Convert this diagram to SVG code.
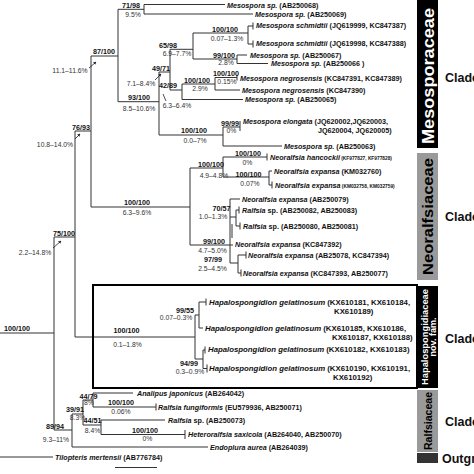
<svg xmlns="http://www.w3.org/2000/svg" width="474" height="474" viewBox="0 0 474 474">
<defs>
<style>
.br{stroke:#333;stroke-width:1;fill:none}
.sup{font-family:"Liberation Sans",Arial,sans-serif;font-weight:bold;font-size:7.2px;fill:#111;text-anchor:middle}
.pct{font-family:"Liberation Sans",Arial,sans-serif;font-size:6.8px;fill:#333;text-anchor:middle}
.tx{font-family:"Liberation Sans",Arial,sans-serif;font-weight:bold;font-size:7.2px;fill:#111}
.hx{font-family:"Liberation Sans",Arial,sans-serif;font-weight:bold;font-size:7.8px;fill:#111}
.it{font-style:italic}
.sm{font-size:4.8px}
.fam{font-family:"Liberation Sans",Arial,sans-serif;font-weight:bold;text-anchor:middle}
.clade{font-family:"Liberation Sans",Arial,sans-serif;font-weight:bold;font-size:12.5px;fill:#111}
.arr{stroke:#222;stroke-width:0.8;fill:none;marker-end:url(#ah)}
</style>
<marker id="ah" viewBox="0 0 6 6" refX="5" refY="3" markerWidth="4" markerHeight="4" orient="auto"><path d="M0,0 L6,3 L0,6 z" fill="#222"/></marker>
</defs>
<rect width="474" height="474" fill="#fff"/>

<g id="connectors">
<path class="br" d="M91 56H118M118 9.3V101.7M118 9.3H144M144 4.5V14M144 4.5H225M144 14H253"/>
<path class="br" d="M118 101.7H159M159 72V135M159 72H170M170 49.3V90"/>
<path class="br" d="M170 49.3H193M193 33V59M193 33H248M248 26V44M248 26H253M253 22.5V29.5M248 44H253M253 40.5V47.5"/>
<path class="br" d="M193 59H237M237 55V63.5M237 55H247M237 63.5H268"/>
<path class="br" d="M170 90H182M182 84V99.5M182 84H215M215 77.5V90M215 77.5H237M237 75V80.5M215 90H240M182 99.5H243"/>
<path class="br" d="M159 135H223M223 127V146M223 127H240M240 121V131M223 146H282"/>
<path class="br" d="M75 131H91M91 56V207M91 207H190M54 237H75M75 131V337"/>
<path class="br" d="M190 168V245M190 168H223M223 157V177M223 157H267M267 153.5V160.5M223 177H269M269 171V185M269 171H272M269 185H272M272 181.5V188.5"/>
<path class="br" d="M190 245H230M230 199V263M230 199H240M230 217H236M236 210V226M236 210H239M239 206.5V213.5M236 226H240M240 222.5V229.5M230 245H233"/>
<path class="br" d="M230 263H238M238 255V273M238 255H246M246 251.5V258.5M238 273H241M241 269.5V276.5"/>
<rect x="229" y="224" width="4" height="14" fill="#999"/>
<path class="br" d="M75 337H195M195 315V359M195 315H199M199 302V328M199 302H206M206 298.5V305.5M199 328H203"/>
<path class="br" d="M195 359H203M203 350V368.5M203 350H205M205 346.5V353.5M203 368.5H207M207 364.5V372.5"/>
<path class="br" d="M54 237V430M0 333H54M54 430H72M72 414V447M72 414H83M83 400V425M83 400H93M93 393V407M93 393H133M93 407H156M156 403.5V410.5"/>
<path class="br" d="M83 425H101M101 420V434.5M101 420H165M101 434.5H185M185 430V439M72 447H208M0 457H53"/>
<path class="br" d="M115 467.5H157"/>
<path class="arr" d="M89 68L96 62"/>
<path class="arr" d="M155 80L161 74"/>
<path class="arr" d="M75 139L80 134"/>
<path class="arr" d="M53 248L61 241"/>
<path d="M166 101L163 94" stroke="#222" stroke-width="0.8"/>
</g>

<g id="support">
<text class="sup" x="131" y="7.5">71/98</text><text class="pct" x="133" y="17">9.5%</text>
<text class="sup" x="104" y="54">87/100</text><text class="pct" x="70" y="73">11.1–11.6%</text>
<text class="sup" x="161" y="70.5">49/71</text><text class="pct" x="141" y="86">7.1–8.4%</text>
<text class="sup" x="139" y="99.5">93/100</text><text class="pct" x="139" y="110.5">8.5–10.6%</text>
<text class="sup" x="168" y="47.5">65/98</text><text class="pct" x="177" y="56">6.9–7.7%</text>
<text class="sup" x="225" y="31.5">100/100</text><text class="pct" x="227" y="41">0.07–1.3%</text>
<text class="sup" x="224" y="57.5">99/100</text><text class="pct" x="226" y="65">2.8%</text>
<text class="sup" x="197" y="82.5">100/100</text><text class="pct" x="200" y="90.5">2.9%</text>
<text class="sup" x="226" y="76">100/100</text><text class="pct" x="227" y="84">0.15%</text>
<text class="sup" x="168" y="88">42/89</text><text class="pct" x="177" y="108">6.3–6.4%</text>
<text class="sup" x="194" y="133">100/100</text><text class="pct" x="195" y="142.5">0.0–7%</text>
<text class="sup" x="230" y="125.5">99/99</text><text class="pct" x="231.5" y="133">0%</text>
<text class="sup" x="81" y="129.5">76/93</text><text class="pct" x="55" y="147">10.8–14.0%</text>
<text class="sup" x="137" y="205">100/100</text><text class="pct" x="137" y="215">6.3–9.6%</text>
<text class="sup" x="64" y="235.5">75/100</text><text class="pct" x="35" y="255">2.2–14.8%</text>
<text class="sup" x="248" y="156">100/100</text><text class="pct" x="247.5" y="165">0%</text>
<text class="sup" x="211" y="167">100/100</text><text class="pct" x="214" y="177.5">4.9–4.8%</text>
<text class="sup" x="248.5" y="176.5">100/100</text><text class="pct" x="250" y="186">0.07%</text>
<text class="sup" x="221.5" y="211">70/57</text><text class="pct" x="213" y="219">1.0–1.3%</text>
<text class="sup" x="214" y="244">99/100</text><text class="pct" x="212.5" y="253">4.7–5.0%</text>
<text class="sup" x="213" y="262">97/99</text><text class="pct" x="212.5" y="270.5">2.5–4.5%</text>
<text class="sup" x="126.5" y="333">100/100</text><text class="pct" x="127.5" y="346.5">0.1–1.8%</text>
<text class="sup" x="185" y="312.5">99/55</text><text class="pct" x="176" y="320">0.07–0.3%</text>
<text class="sup" x="189" y="365.5">94/99</text><text class="pct" x="190" y="374">0.3–0.9%</text>
<text class="sup" x="17" y="331">100/100</text>
<text class="sup" x="55" y="428.5">89/94</text><text class="pct" x="56" y="441.5">9.3–11%</text>
<text class="sup" x="75" y="412">39/91</text><text class="pct" x="77.5" y="419.5">8.3%</text>
<text class="sup" x="88.5" y="398.5">44/79</text><text class="pct" x="89" y="405">8%</text>
<text class="sup" x="92.5" y="423">44/51</text><text class="pct" x="92.5" y="433">8.4%</text>
<text class="sup" x="121" y="405">100/100</text><text class="pct" x="121" y="413.5">0.06%</text>
<text class="sup" x="145" y="432.5">100/100</text><text class="pct" x="147.5" y="441">0%</text>
</g>

<g id="taxa">
<g id="t1"><text class="tx" x="227" y="7.5"><tspan class="it">Mesospora sp.</tspan> (AB250068)</text></g>
<g id="t2"><text class="tx" x="255" y="16.5"><tspan class="it">Mesospora sp.</tspan> (AB250069)</text></g>
<g id="t3"><text class="tx" x="256" y="27.5"><tspan class="it">Mesospora schmidtii</tspan> (JQ619999, KC847387)</text></g>
<g id="t4"><text class="tx" x="256" y="45.5"><tspan class="it">Mesospora schmidtii</tspan> (JQ619998, KC847388)</text></g>
<g id="t5"><text class="tx" x="250" y="57.5"><tspan class="it">Mesospora sp.</tspan> (AB250067)</text></g>
<g id="t6"><text class="tx" x="271" y="65.5"><tspan class="it">Mesospora sp.</tspan> (AB250066 )</text></g>
<g id="t7"><text class="tx" x="240" y="80.5"><tspan class="it">Mesospora negrosensis</tspan> (KC847391, KC847389)</text></g>
<g id="t8"><text class="tx" x="242" y="92.5"><tspan class="it">Mesospora negrosensis</tspan> (KC847390)</text></g>
<g id="t9"><text class="tx" x="245" y="101.5"><tspan class="it">Mesospora sp.</tspan> (AB250065)</text></g>
<g id="t10"><text class="tx" x="243" y="123.5"><tspan class="it">Mesospora elongata</tspan> (JQ620002,JQ620003,</text><text class="tx" x="318" y="132.5">JQ620004, JQ620005)</text></g>
<g id="t11"><text class="tx" x="284" y="148.5"><tspan class="it">Mesospora sp.</tspan> (AB250063)</text></g>
<g id="t12"><text class="tx" x="270" y="159.5"><tspan class="it">Neoralfsia hancockii</tspan><tspan class="sm"> (KF977827, KF977828)</tspan></text></g>
<g id="t13"><text class="tx" x="274" y="173.5"><tspan class="it">Neoralfsia expansa</tspan> (KM032760)</text></g>
<g id="t14"><text class="tx" x="275" y="187.5"><tspan class="it">Neoralfsia expansa</tspan><tspan class="sm"> (KM032758, KM032759)</tspan></text></g>
<g id="t15"><text class="tx" x="242" y="201.5"><tspan class="it">Neoralfsia expansa</tspan> (AB250079)</text></g>
<g id="t16"><text class="tx" x="242" y="212.5"><tspan class="it">Ralfsia</tspan> sp. (AB250082, AB250083)</text></g>
<g id="t17"><text class="tx" x="243" y="228.5"><tspan class="it">Ralfsia</tspan> sp. (AB250080, AB250081)</text></g>
<g id="t18"><text class="tx" x="235" y="246.5"><tspan class="it">Neoralfsia expansa</tspan> (KC847392)</text></g>
<g id="t19"><text class="tx" x="248" y="257.5"><tspan class="it">Neoralfsia expansa</tspan> (AB25078, KC847394)</text></g>
<g id="t20"><text class="tx" x="243" y="275.5"><tspan class="it">Neoralfsia expansa</tspan> (KC847393, AB250077)</text></g>
<g id="t21"><text class="hx" x="209" y="304.5"><tspan class="it">Hapalospongidion gelatinosum</tspan> (KX610181, KX610184,</text><text class="hx" x="334" y="313.5">KX610189)</text></g>
<g id="t22"><text class="hx" x="205" y="330.5"><tspan class="it">Hapalospongidion gelatinosum</tspan> (KX610185, KX610186,</text><text class="hx" x="332" y="339.5">KX610187, KX610188)</text></g>
<g id="t23"><text class="hx" x="208" y="352"><tspan class="it">Hapalospongidion gelatinosum</tspan> (KX610182, KX610183)</text></g>
<g id="t24"><text class="hx" x="209" y="371"><tspan class="it">Hapalospongidion gelatinosum</tspan> (KX610190, KX610191,</text><text class="hx" x="333" y="380">KX610192)</text></g>
<g id="t25"><text class="tx" x="137" y="395.5"><tspan class="it">Analipus japonicus</tspan> (AB264042)</text></g>
<g id="t26"><text class="tx" x="158" y="409.5"><tspan class="it">Ralfsia fungiformis</tspan> (EU579936, AB250071)</text></g>
<g id="t27"><text class="tx" x="168" y="422.5"><tspan class="it">Ralfsia</tspan> sp. (AB250073)</text></g>
<g id="t28"><text class="tx" x="188" y="437"><tspan class="it">Heteroralfsia saxicola</tspan> (AB264040, AB250070)</text></g>
<g id="t29"><text class="tx" x="210" y="450"><tspan class="it">Endoplura aurea</tspan> (AB264039)</text></g>
<g id="t30"><text class="tx" x="55" y="460"><tspan class="it">Tilopteris mertensii</tspan> (AB776784)</text></g>
</g>

<g id="hapalo-box"><rect x="93" y="285" width="324" height="103" fill="none" stroke="#000" stroke-width="2"/></g>

<g id="families">
<g id="f-meso"><rect x="417" y="0" width="21" height="148" fill="#000"/><text class="fam" transform="translate(433.5,76) rotate(-90)" font-size="17" fill="#fff" textLength="136" lengthAdjust="spacingAndGlyphs">Mesosporaceae</text></g>
<g id="f-neo"><rect x="417" y="153" width="21" height="127" fill="#9a9a9a"/><text class="fam" transform="translate(433,216.5) rotate(-90)" font-size="15" fill="#000" textLength="117" lengthAdjust="spacingAndGlyphs">Neoralfsiaceae</text></g>
<g id="f-hapalo"><rect x="417" y="286" width="21" height="102" fill="#000"/><text class="fam" transform="translate(427.5,337) rotate(-90)" font-size="9" fill="#fff" textLength="96" lengthAdjust="spacingAndGlyphs">Hapalospongidiaceae</text><text class="fam" transform="translate(436,337) rotate(-90)" font-size="9" fill="#fff">nov. fam.</text></g>
<g id="f-ralfs"><rect x="417" y="390" width="21" height="62" fill="#9a9a9a"/><text class="fam" transform="translate(431.5,421) rotate(-90)" font-size="11" fill="#000" textLength="58" lengthAdjust="spacingAndGlyphs">Ralfsiaceae</text></g>
<g id="f-out"><rect x="417" y="453" width="21" height="10" fill="#333"/></g>
</g>

<g id="clades">
<text class="clade" x="445" y="81.5">Clade</text>
<text class="clade" x="445" y="221">Clade</text>
<text class="clade" x="445" y="342.5">Clade</text>
<text class="clade" x="445" y="425.5">Clade</text>
<text class="clade" x="442" y="462.5">Outgroup</text>
</g>
</svg>
